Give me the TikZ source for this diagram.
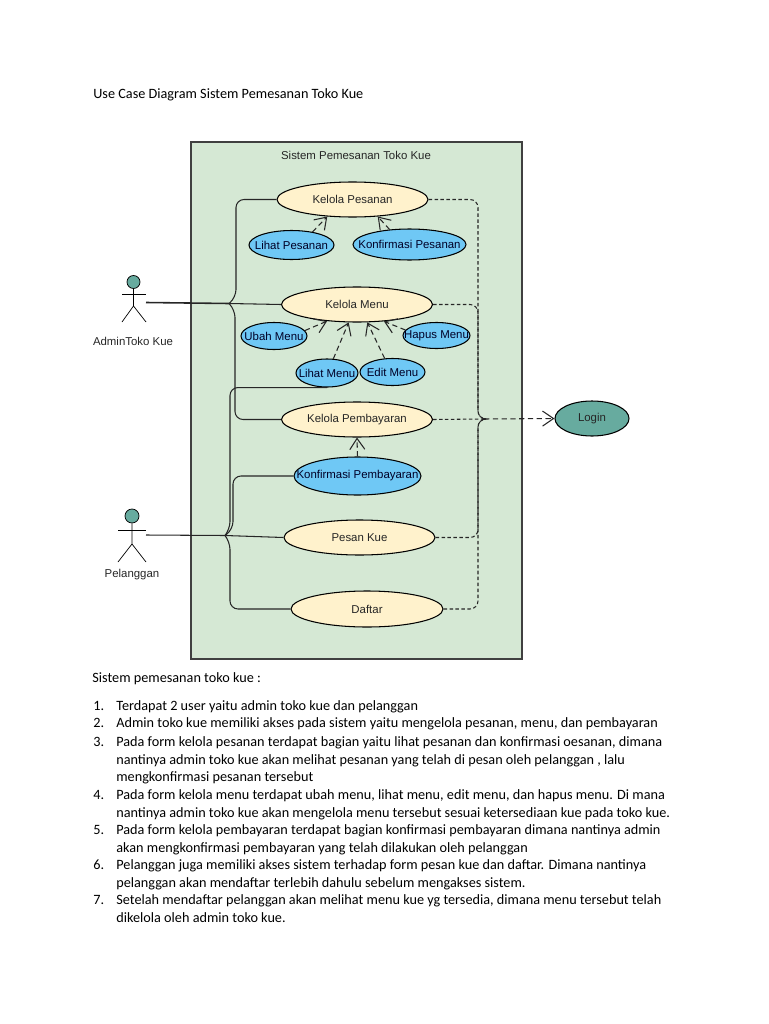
\documentclass[tikz,border=0pt]{standalone}
\usepackage{fontspec}
\setmainfont{Carlito}
\newfontfamily\diagramfont{Liberation Sans}
\usetikzlibrary{shapes,arrows.meta}
\definecolor{panelgreen}{HTML}{D5E8D4}
\definecolor{casecream}{HTML}{FFF2CC}
\definecolor{caseblue}{HTML}{6FC8F5}
\definecolor{caseteal}{HTML}{67AB9F}
\newcommand{\unitpx}{*0.02cm}
\newcommand{\casetext}[1]{\makebox[0pt]{#1}}
\tikzset{>={Straight Barb[length=2.2mm,width=3mm]},
  usecase/.style={ellipse,draw=black,semithick,fill=casecream,inner sep=0pt,
    minimum width=151\unitpx,minimum height=35\unitpx,text=black!85,font=\diagramfont\fontsize{6.5}{8}\selectfont},
  subcase/.style={usecase,fill=caseblue,text=black!85!blue},
  assoc/.style={draw=black!85,semithick,rounded corners=1.6mm},
  include/.style={->,draw=black!85,semithick,dashed,dash pattern=on 3pt off 2pt},
  extend/.style={draw=black!85,semithick,dashed,dash pattern=on 2pt off 1.4pt,rounded corners=1.6mm},
  actorlabel/.style={font=\diagramfont\fontsize{6.5}{8}\selectfont,text=black!85},
  doctext/.style={anchor=base west,inner sep=0pt,font=\fontsize{8.1}{10}\selectfont}}
\begin{document}
\begin{tikzpicture}[x=0.02cm,y=-0.02cm]
    \useasboundingbox (0,0) rectangle (768,1024);

    \node (title) [doctext] at (93,99) {Use Case Diagram Sistem Pemesanan Toko Kue};

    % system box
    \node (sys) [draw=black!75,semithick,fill=panelgreen,inner sep=0pt,
      minimum width=331\unitpx,minimum height=517\unitpx] at (356.5,400.5) {};
    \node (systitle) [actorlabel] at (356,155) {Sistem Pemesanan Toko Kue};

    % use cases
    \node (kp) [usecase] at (352.5,199.5) {Kelola Pesanan};
    \node (lp) [subcase,minimum width=85\unitpx,minimum height=29\unitpx] at (291.5,245) {\casetext{Lihat Pesanan}};
    \node (op) [subcase,minimum width=113\unitpx,minimum height=31\unitpx] at (409.5,244.5) {\casetext{Konfirmasi Pesanan}};
    \node (km) [usecase] at (357,304.5) {Kelola Menu};
    \node (um) [subcase,minimum width=66\unitpx,minimum height=27\unitpx] at (274,336) {\casetext{Ubah Menu}};
    \node (lm) [subcase,minimum width=62\unitpx,minimum height=28\unitpx] at (327,373) {\casetext{Lihat Menu}};
    \node (em) [subcase,minimum width=65\unitpx,minimum height=27\unitpx] at (392.5,372) {\casetext{Edit Menu}};
    \node (hm) [subcase,minimum width=67\unitpx,minimum height=26\unitpx] at (436.5,335.5) {\casetext{Hapus Menu}};
    \node (kb) [usecase] at (357,419.5) {\casetext{Kelola Pembayaran}};
    \node (ob) [subcase,minimum width=127\unitpx,minimum height=38\unitpx] at (357.5,476) {\casetext{Konfirmasi Pembayaran}};
    \node (pk) [usecase] at (359.5,537.5) {Pesan Kue};
    \node (df) [usecase,minimum width=152\unitpx,minimum height=36\unitpx] at (367,609) {Daftar};
    \node (login) [usecase,fill=caseteal,minimum width=74\unitpx] at (592,418.5) {Login};

    % actors
    \node (ah) [circle,draw=black,fill=caseteal,inner sep=0pt,minimum size=13\unitpx] at (133.5,282) {};
    \draw (ah) -- (133.5,306) -- (122,322);
    \draw (133.5,306) -- (146,322);
    \draw (122,294) -- (146,294);
    \node (al) [actorlabel] at (133,341) {AdminToko Kue};
    \node (ph) [circle,draw=black,fill=caseteal,inner sep=0pt,minimum size=14\unitpx] at (132,516) {};
    \draw (ph) -- (132,544) -- (118,562);
    \draw (132,544) -- (146,562);
    \draw (118,530) -- (146,530);
    \node (pl) [actorlabel] at (132,575) {Pelanggan};

    \coordinate (a1) at (146,302.5);
    \coordinate (a2) at (229,303.5);
    \coordinate (p1) at (146,535);
    \coordinate (p2) at (225,535.5);
    \coordinate (j0) at (478,419);
    \coordinate (j1) at (484,419);

    % admin side
    \draw[assoc,line width=0.9pt] (a1) -- (a2);
    \draw[assoc] (a2) -- ++(7,-6) |- (kp.west);
    \draw[assoc] (a2) -- (km.west);
    \draw[assoc] (a2) -- ++(6,6) |- (kb.west);

    % customer side
    \draw[assoc] (p1) -- (p2);
    \draw[assoc] (p2) -- ++(5,-6) |- (lm.south);
    \draw[assoc] (p2) -- ++(8,-6) |- (ob.west);
    \draw[assoc] (p2) -- (pk.west);
    \draw[assoc] (p2) -- ++(5,6) |- (df.west);

    % includes
    \draw[include] (lp.32) -- (kp.214);
    \draw[include] (op.143) -- (kp.326);
    \draw[include] (um.10) -- (km.209);
    \draw[include] (lm.66) -- (km.245);
    \draw[include] (em.120) -- (km.300);
    \draw[include] (hm.170) -- (km.328);
    \draw[include] (ob.north) -- (kb.south);

    % to login
    \draw[extend] (kp.east) -| (j0) -- (j1);
    \draw[extend] (km.east) -| (j0) -- (j1);
    \draw[extend] (pk.east) -| (j0) -- (j1);
    \draw[extend] (df.east) -| (j0) -- (j1);
    \draw[extend] (kb.east) -- (j1);
    \draw[include] (j1) -- (login.west);

    % text under the diagram
    \node (d0) [doctext] at (92,682) {Sistem pemesanan toko kue :};
    \node (n1) [doctext] at (93,710) {1.};
    \node (t1) [doctext] at (116,710) {Terdapat 2 user yaitu admin toko kue dan pelanggan};
    \node (n2) [doctext] at (93,727) {2.};
    \node (t2) [doctext] at (116,727) {Admin toko kue memiliki akses pada sistem yaitu mengelola pesanan, menu, dan pembayaran};
    \node (n3) [doctext] at (93,746) {3.};
    \node (t3) [doctext] at (116,746) {Pada form kelola pesanan terdapat bagian yaitu lihat pesanan dan konfirmasi oesanan, dimana};
    \node (t3b) [doctext] at (116,764) {nantinya admin toko kue akan melihat pesanan yang telah di pesan oleh pelanggan , lalu};
    \node (t3c) [doctext] at (116,781) {mengkonfirmasi pesanan tersebut};
    \node (n4) [doctext] at (93,799) {4.};
    \node (t4) [doctext] at (116,799) {Pada form kelola menu terdapat ubah menu, lihat menu, edit menu, dan hapus menu. Di mana};
    \node (t4b) [doctext] at (116,817) {nantinya admin toko kue akan mengelola menu tersebut sesuai ketersediaan kue pada toko kue.};
    \node (n5) [doctext] at (93,834) {5.};
    \node (t5) [doctext] at (116,834) {Pada form kelola pembayaran terdapat bagian konfirmasi pembayaran dimana nantinya admin};
    \node (t5b) [doctext] at (116,852) {akan mengkonfirmasi pembayaran yang telah dilakukan oleh pelanggan};
    \node (n6) [doctext] at (93,869) {6.};
    \node (t6) [doctext] at (116,869) {Pelanggan juga memiliki akses sistem terhadap form pesan kue dan daftar. Dimana nantinya};
    \node (t6b) [doctext] at (116,887) {pelanggan akan mendaftar terlebih dahulu sebelum mengakses sistem.};
    \node (n7) [doctext] at (93,904) {7.};
    \node (t7) [doctext] at (116,904) {Setelah mendaftar pelanggan akan melihat menu kue yg tersedia, dimana menu tersebut telah};
    \node (t7b) [doctext] at (116,922) {dikelola oleh admin toko kue.};
\end{tikzpicture}
\end{document}
